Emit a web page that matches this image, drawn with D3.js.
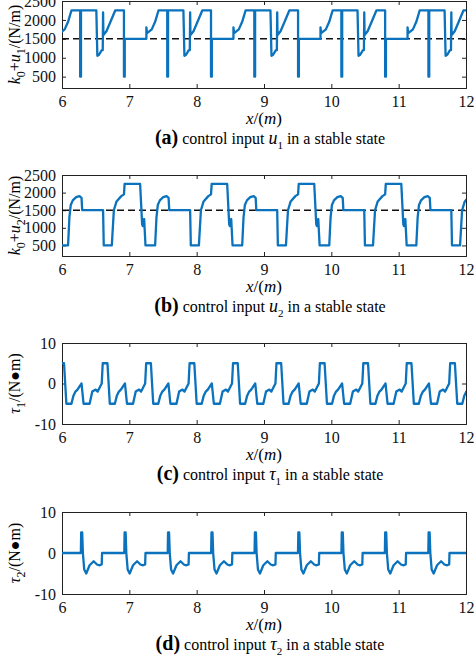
<!DOCTYPE html>
<html><head><meta charset="utf-8">
<script src="https://cdn.jsdelivr.net/npm/d3@7"></script>
<style>body{margin:0;background:#fff}text{font-family:"Liberation Serif","Times New Roman",serif}</style>
</head><body>
<script>
// one cycle of each trace: [offset from cycle start (m), value]
const u1Cycle = [[0,1500],[0,1800],[0.01,1650],[0.08,1750],[0.13,1950],[0.18,2250],[0.31,2250],[0.31,500],[0.322,500],[0.322,2250],
  [0.55,2250],[0.565,1050],[0.59,1080],[0.63,1200],[0.645,1200],[0.65,2200],[0.655,1600],[0.7,1700],[0.76,1950],[0.83,2250],
  [0.96,2250],[0.96,500],[0.972,500],[0.972,1500],[1.293,1500]];
const u1Starts = [5.96, 7.253, 8.546, 9.839, 11.132];

const u2Cycle = [[0,500],[0.02,1300],[0.04,1650],[0.07,1780],[0.12,1870],[0.17,1900],[0.2,1850],[0.21,1500],[0.52,1500],[0.53,500],
  [0.65,500],[0.68,1500],[0.72,1750],[0.79,1900],[0.83,1950],[0.84,2250],[1.07,2250],[1.1,1100],[1.11,1050],[1.13,1250],[1.15,500],[1.293,500]];
const u2Starts = [4.797, 6.09, 7.383, 8.676, 9.969, 11.262];

const t1Cycle = [[0,5],[0.035,-5],[0.11,-5],[0.14,-3],[0.17,-2],[0.2,-1.5],[0.26,0],[0.29,-5],[0.38,-5],[0.42,-2],[0.47,-1.5],
  [0.5,-2],[0.56,0],[0.575,5],[0.645,5]];
const t1Starts = [5.385, 6.03, 6.675, 7.32, 7.965, 8.61, 9.255, 9.9, 10.545, 11.19, 11.835];

const t2Cycle = [[0,0],[0.005,5],[0.02,5],[0.03,0],[0.05,-4],[0.08,-5],[0.13,-3],[0.19,-2],[0.24,-2.8],[0.27,-3],[0.31,-2.8],[0.315,0],[0.645,0]];
const t2Starts = [5.635, 6.28, 6.925, 7.57, 8.215, 8.86, 9.505, 10.15, 10.795, 11.44];

const xTicks = [6,7,8,9,10,11,12];
const uTicks = [500,1000,1500,2000,2500];
const tTicks = [-10,0,10];
const refLevel = 1500;

const W = 474, H = 660, L = 62, R = 466;
const blue = "#0b72bd";
const svg = d3.select("body").append("svg").attr("width", W).attr("height", H);
const x = d3.scaleLinear().domain([6,12]).range([L,R]);

function build(cycle, starts) {
  const pts = [];
  starts.forEach(s => cycle.forEach(p => pts.push([s + p[0], p[1]])));
  return pts;
}

const panels = [
  {top:1, bot:88, dom:[200,2500], ticks:uTicks, pts:build(u1Cycle,u1Starts), dash:true,
   ylab:[["k",1],["0",0,"sub"],["+",0],["u",1],["1",0,"sub"],["/(N/m)",0]], cap:["(a)","control input ","u","1"," in a stable state"]},
  {top:175, bot:256, dom:[200,2500], ticks:uTicks, pts:build(u2Cycle,u2Starts), dash:true,
   ylab:[["k",1],["0",0,"sub"],["+",0],["u",1],["2",0,"sub"],["/(N/m)",0]], cap:["(b)","control input ","u","2"," in a stable state"]},
  {top:343, bot:424, dom:[-10,10], ticks:tTicks, pts:build(t1Cycle,t1Starts),
   ylab:[["τ",1],["1",0,"sub"],["/(N●m)",0]], cap:["(c)","control input ","τ","1"," in a stable state"]},
  {top:512, bot:594, dom:[-10,10], ticks:tTicks, pts:build(t2Cycle,t2Starts),
   ylab:[["τ",1],["2",0,"sub"],["/(N●m)",0]], cap:["(d)","control input ","τ","2"," in a stable state"]}
];

panels.forEach((p, i) => {
  const y = d3.scaleLinear().domain(p.dom).range([p.bot, p.top]);
  const g = svg.append("g");
  g.append("clipPath").attr("id","c"+i).append("rect")
    .attr("x",L).attr("y",p.top).attr("width",R-L).attr("height",p.bot-p.top);

  const fmt = d => String(d);
  g.append("g").attr("transform",`translate(0,${p.bot})`).call(d3.axisBottom(x).tickValues(xTicks).tickSize(-4).tickPadding(8).tickFormat(fmt));
  g.append("g").attr("transform",`translate(0,${p.top})`).call(d3.axisTop(x).tickValues(xTicks).tickSize(-4).tickFormat(""));
  g.append("g").attr("transform",`translate(${L},0)`).call(d3.axisLeft(y).tickValues(p.ticks).tickSize(-4).tickPadding(6).tickFormat(fmt));
  g.append("g").attr("transform",`translate(${R},0)`).call(d3.axisRight(y).tickValues(p.ticks).tickSize(-4).tickFormat(""));
  g.selectAll("g").attr("font-family","Liberation Serif");
  g.selectAll(".domain").attr("stroke","#222");
  g.selectAll(".tick line").attr("stroke","#222");
  g.selectAll(".tick text").attr("font-size",16).attr("fill","#111");

  if (p.dash) {
    g.append("line").attr("x1",L).attr("x2",R).attr("y1",y(refLevel)).attr("y2",y(refLevel))
      .attr("stroke","#111").attr("stroke-width",1.5).attr("stroke-dasharray","7,4");
  }
  g.append("path").datum(p.pts).attr("clip-path",`url(#c${i})`)
    .attr("fill","none").attr("stroke",blue).attr("stroke-width",2.3).attr("stroke-linejoin","round")
    .attr("d", d3.line().x(d => x(d[0])).y(d => y(d[1])));

  // y label
  const yl = g.append("text").attr("transform",`translate(20,${(p.top+p.bot)/2}) rotate(-90)`)
    .attr("text-anchor","middle").attr("font-size",16);
  p.ylab.forEach((s, k) => {
    const t = yl.append("tspan").text(s[0]);
    if (s[1]) t.attr("font-style","italic");
    if (s[2]) t.attr("font-size",12).attr("dy",5);
    else if (k > 0 && p.ylab[k-1][2]) t.attr("dy",-5);
  });

  // x label
  const xl = g.append("text").attr("x",(L+R)/2).attr("y",p.bot+36).attr("text-anchor","middle").attr("font-size",17);
  xl.append("tspan").attr("font-style","italic").text("x");
  xl.append("tspan").text("/(");
  xl.append("tspan").attr("font-style","italic").text("m");
  xl.append("tspan").text(")");

  // caption
  const c = g.append("text").attr("x",(L+R)/2 + 6).attr("y",p.bot+56).attr("text-anchor","middle").attr("font-size",16);
  c.append("tspan").attr("font-weight","bold").attr("font-size",20).text(p.cap[0]);
  c.append("tspan").text("  " + p.cap[1]);
  c.append("tspan").attr("font-style","italic").attr("font-size",18).text(p.cap[2]);
  c.append("tspan").attr("font-size",11).attr("dy",5).text(p.cap[3]);
  c.append("tspan").attr("dy",-5).text(p.cap[4]);
});
</script>
</body></html>
